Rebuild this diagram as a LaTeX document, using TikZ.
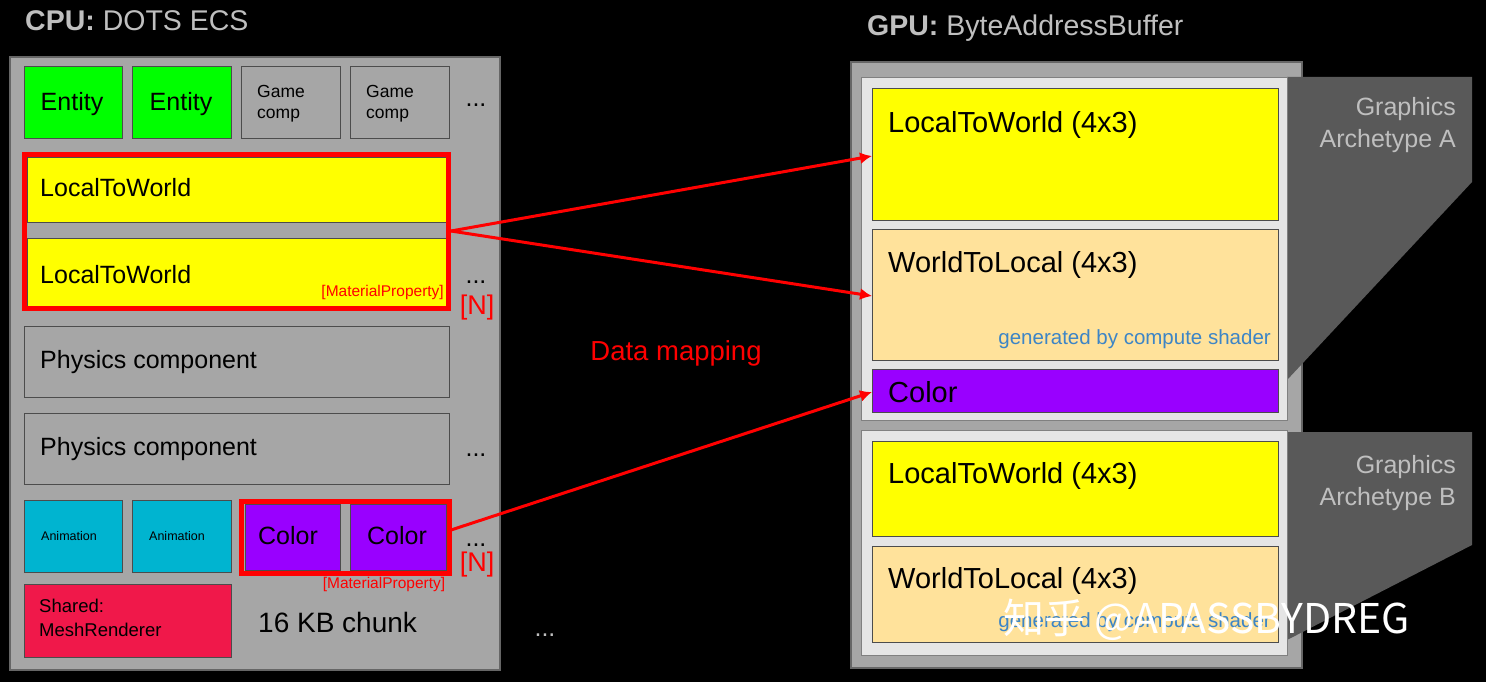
\documentclass[tikz,border=0pt]{standalone}
\usepackage{fontspec}
\setmainfont{Liberation Sans}
\newfontfamily\cjk{Noto Sans CJK SC}
\usetikzlibrary{arrows.meta}
\definecolor{panel}{HTML}{A6A6A6}
\definecolor{ygw}{HTML}{FFFF00}
\definecolor{org}{HTML}{FFE29B}
\definecolor{pur}{HTML}{9900FF}
\definecolor{cy}{HTML}{00B4D0}
\definecolor{crim}{HTML}{F0184A}
\definecolor{tab}{HTML}{595959}
\definecolor{ttl}{HTML}{BFBFBF}
\definecolor{blu}{HTML}{3D85C6}
\newcommand{\fs}[2]{\fontsize{#1}{#2}\selectfont}
\tikzset{
 box/.style={draw=black!70,line width=1pt,inner sep=0},
 lbl/.style={anchor=west,inner sep=0,font=\fs{25}{30}},
 sm/.style={align=left,anchor=north west,inner sep=0,font=\fs{17.5}{21}},
 dots/.style={inner sep=0,font=\fs{25}{30}},
 mp/.style={inner sep=0,text=red,font=\fs{15.5}{18}},
 arr/.style={red,line width=3pt,-{Latex[length=12pt,width=12pt]}},
 tl/.style={inner sep=0,align=right,text=ttl,font=\fs{25}{32},anchor=north east}
}
\begin{document}
\begin{tikzpicture}[x=1pt,y=-1pt]
\fill[black] (0,0) rectangle (1486,682);
\useasboundingbox (0,0) rectangle (1486,682);
% titles
\node[anchor=west,inner sep=0,text=ttl,font=\fs{28.5}{32}] (ct) at (25,21) {\textbf{CPU:} DOTS ECS};
\node[anchor=west,inner sep=0,text=ttl,font=\fs{28.5}{32}] (gt) at (867,28) {\textbf{GPU:} ByteAddressBuffer};
% CPU panel
\filldraw[fill=panel,draw=black!60,line width=1.5pt] (10,57) rectangle (500,670);
\filldraw[box,fill=green] (24,67) rectangle (122,139);
\node[font=\fs{25}{30}] (e1) at (72,104) {Entity};
\filldraw[box,fill=green] (132,67) rectangle (231,139);
\node[font=\fs{25}{30}] (e2) at (181,104) {Entity};
\draw[box] (241,67) rectangle (340,139);
\node[sm] (g1) at (257,85) {Game\\comp};
\draw[box] (350,67) rectangle (449,139);
\node[sm] (g2) at (366,85) {Game\\comp};
\node[dots] (d1) at (476,105) {...};
\filldraw[draw=black!70,fill=ygw] (27,157) rectangle (446,222);
\node[lbl] (l1) at (40,188) {LocalToWorld};
\filldraw[draw=black!70,fill=ygw] (27,238) rectangle (446,306);
\node[lbl] (l2) at (40,275) {LocalToWorld};
\node[mp,anchor=east] (mp1) at (444,292) {[MaterialProperty]};
\draw[red,line width=5pt] (24.5,154.5) rectangle (448.5,308.5);
\coordinate (s1) at (451,231);
\node[dots] (d2) at (476,282) {...};
\node[inner sep=0,text=red,font=\fs{27}{30}] (n1) at (477,308) {[N]};
\draw[box] (24,326) rectangle (449,397);
\node[lbl] (p1) at (40,362) {Physics component};
\draw[box] (24,413) rectangle (449,484);
\node[lbl] (p2) at (40,449) {Physics component};
\node[dots] (d3) at (476,455) {...};
\filldraw[box,fill=cy] (24,500) rectangle (122,572);
\node[font=\fs{12.5}{14}] (a1) at (69,536) {Animation};
\filldraw[box,fill=cy] (132,500) rectangle (231,572);
\node[font=\fs{12.5}{14}] (a2) at (177,536) {Animation};
\filldraw[draw=black!70,fill=pur] (245,504) rectangle (340,570);
\node[font=\fs{25}{30}] (c1) at (288,536) {Color};
\filldraw[draw=black!70,fill=pur] (350,504) rectangle (446,570);
\node[font=\fs{25}{30}] (c2) at (397,536) {Color};
\draw[red,line width=5pt] (241.5,501.5) rectangle (449.5,573.5);
\coordinate (s2) at (451,530);
\node[dots] (d4) at (476,545) {...};
\node[inner sep=0,text=red,font=\fs{27}{30}] (n2) at (477,565) {[N]};
\node[mp] (mp2) at (384,584) {[MaterialProperty]};
\filldraw[box,fill=crim] (24,584) rectangle (231,657);
\node[sm,font=\fs{18.5}{24}] (sh) at (39,599) {Shared:\\MeshRenderer};
\node[lbl,font=\fs{28}{30}] (kb) at (258,622) {16 KB chunk};
\node[dots,text=ttl] (d5) at (545,635) {...};
\node[inner sep=0,text=red,font=\fs{27.5}{30}] (dm) at (676,353) {Data mapping};
% GPU panel
\filldraw[fill=panel,draw=black!60,line width=1.5pt] (851,62) rectangle (1302,668);
\fill[tab] (1287,77) -- (1472,77) -- (1472,182) -- (1287,380) -- cycle;
\fill[tab] (1287,432) -- (1472,432) -- (1472,545) -- (1287,640) -- cycle;
\node[tl] (ta) at (1456,97) {Graphics\\Archetype A};
\node[tl] (tb) at (1456,455) {Graphics\\Archetype B};
\filldraw[fill=black!10,draw=black!50] (861,77) rectangle (1287,420);
\filldraw[fill=black!10,draw=black!50] (861,430) rectangle (1287,655);
\filldraw[box,fill=ygw] (872,89) rectangle (1278,220);
\node[lbl,font=\fs{29}{30}] (ga) at (888,125) {LocalToWorld (4x3)};
\filldraw[box,fill=org] (872,229) rectangle (1278,360);
\node[lbl,font=\fs{29}{30}] (gb) at (888,265) {WorldToLocal (4x3)};
\node[inner sep=0,anchor=east,text=blu,font=\fs{20.5}{24}] (gc1) at (1271,339) {generated by compute shader};
\filldraw[box,fill=pur] (872,369) rectangle (1278,412);
\node[lbl,font=\fs{29}{30}] (gcol) at (888,392) {Color};
\filldraw[box,fill=ygw] (872,441) rectangle (1278,536);
\node[lbl,font=\fs{29}{30}] (gd) at (888,476) {LocalToWorld (4x3)};
\filldraw[box,fill=org] (872,546) rectangle (1278,642);
\node[lbl,font=\fs{29}{30}] (ge) at (888,581) {WorldToLocal (4x3)};
\node[inner sep=0,anchor=east,text=blu,font=\fs{20.5}{24}] (gc2) at (1271,622) {generated by compute shader};
\coordinate (t1) at (872,156);
\coordinate (t2) at (872,296);
\coordinate (t3) at (872,392);
\draw[arr] (s1) -- (t1);
\draw[arr] (s1) -- (t2);
\draw[arr] (s2) -- (t3);
\node[inner sep=0,text=white,font=\cjk\fs{41}{44},anchor=west] (wm) at (1003,620) {知乎 @APASSBYDREG};
\end{tikzpicture}
\end{document}
